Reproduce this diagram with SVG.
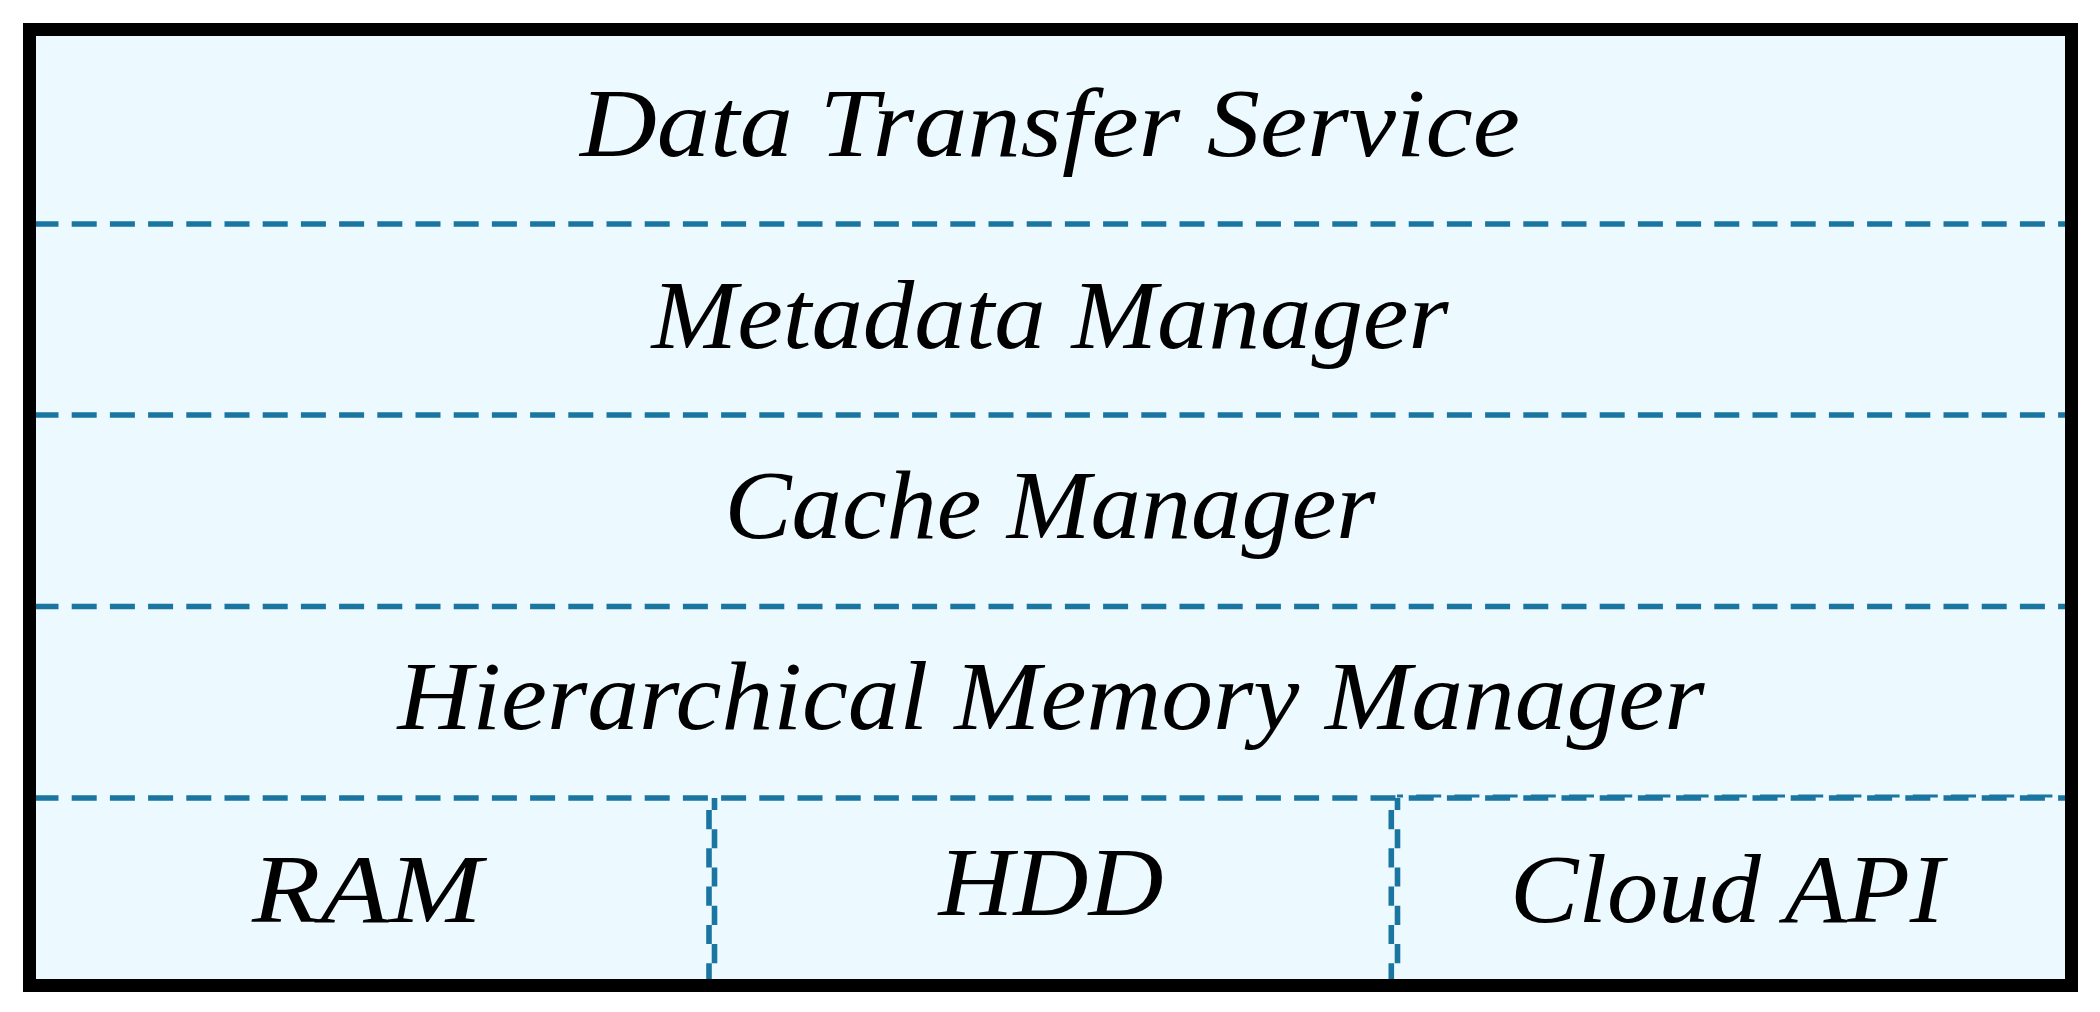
<svg xmlns="http://www.w3.org/2000/svg" width="2100" height="1012" viewBox="0 0 2100 1012">
<style>
.lbl{font-family:"Liberation Serif","DejaVu Serif",serif;font-style:italic;font-size:98px;fill:#000;text-anchor:middle}
.sep{stroke:#1a76a0;stroke-width:5.5;fill:none;stroke-dasharray:25 13.2}
.vsep{stroke:#1a76a0;stroke-width:5.6;fill:none;stroke-dasharray:19.15 19.15}
</style>
<rect x="0" y="0" width="2100" height="1012" fill="#ffffff"/>
<rect id="frame-bg" x="29.5" y="29.5" width="2042" height="956" fill="#ecf9ff"/>
<g id="dividers">
<line class="sep" x1="33.5" y1="224" x2="2065" y2="224"/>
<line class="sep" x1="33.5" y1="415" x2="2065" y2="415"/>
<line class="sep" x1="33.5" y1="606.5" x2="2065" y2="606.5"/>
<line class="sep" x1="33.5" y1="798" x2="2065" y2="798"/>
<line class="sep" x1="1397" y1="796" x2="2065" y2="796" style="stroke-width:3;stroke-dashoffset:19"/>
<line class="vsep" x1="709" y1="798" x2="709" y2="979" style="stroke-dashoffset:26.3"/>
<line class="vsep" x1="714.5" y1="798" x2="714.5" y2="979" style="stroke-dashoffset:7.15"/>
<line class="vsep" x1="1391.3" y1="798" x2="1391.3" y2="979" style="stroke-dashoffset:26.3"/>
<line class="vsep" x1="1397.5" y1="798" x2="1397.5" y2="979" style="stroke-dashoffset:7.15"/>
</g>
<g id="data-transfer-service"><text class="lbl" x="1050" y="156" textLength="940" lengthAdjust="spacingAndGlyphs">Data Transfer Service</text></g>
<g id="metadata-manager"><text class="lbl" x="1050" y="348" textLength="797" lengthAdjust="spacingAndGlyphs">Metadata Manager</text></g>
<g id="cache-manager"><text class="lbl" x="1050" y="538" textLength="651" lengthAdjust="spacingAndGlyphs">Cache Manager</text></g>
<g id="hierarchical-memory-manager"><text class="lbl" x="1051" y="729" textLength="1307" lengthAdjust="spacingAndGlyphs">Hierarchical Memory Manager</text></g>
<g id="ram"><text class="lbl" x="367" y="922" textLength="230" lengthAdjust="spacingAndGlyphs">RAM</text></g>
<g id="hdd"><text class="lbl" x="1051" y="915" textLength="225" lengthAdjust="spacingAndGlyphs">HDD</text></g>
<g id="cloud-api"><text class="lbl" x="1727" y="922" textLength="434" lengthAdjust="spacingAndGlyphs">Cloud API</text></g>
<rect id="frame" x="29.5" y="29.5" width="2042" height="956" fill="none" stroke="#000" stroke-width="13"/>
</svg>
